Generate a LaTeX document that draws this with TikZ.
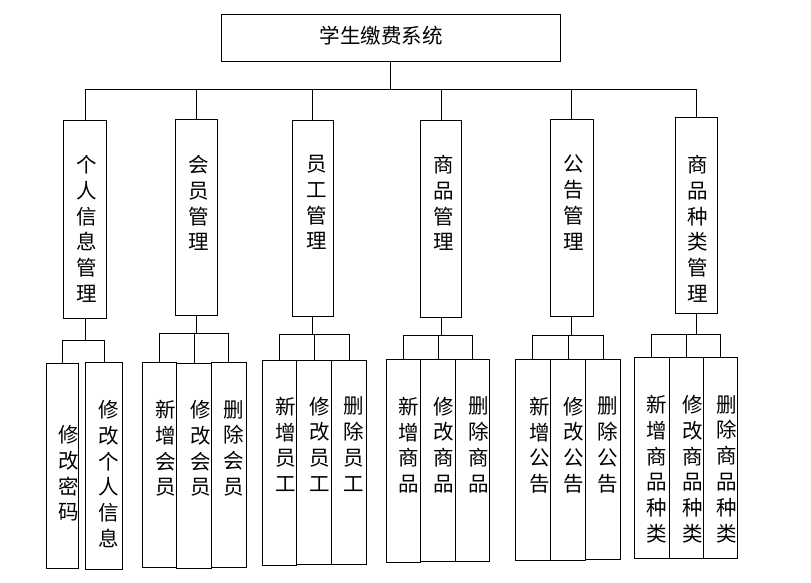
\documentclass[tikz,border=0pt]{standalone}
\usepackage{fontspec}
\newfontfamily\cjk{Noto Sans CJK SC}
\begin{document}
\begin{tikzpicture}[x=1pt,y=-1pt,
  rootbox/.style={draw=black, line width=1pt, minimum width=339pt, minimum height=47pt, inner sep=0pt},
  modbox/.style={draw=black, line width=1pt, inner sep=0pt},
  vlabel/.style={anchor=north, align=center, inner sep=0pt, font=\cjk\fontsize{20.5}{25.8}\selectfont},
  link/.style={draw=black, line width=1pt}]
  \useasboundingbox (0,0) rectangle (811,583);

  % system
  \node[rootbox] (sys) at (390.5,38.5) {};
  \node[vlabel, anchor=center] (systxt) at (381,36) {学生缴费系统};

  % modules
  \node[modbox, minimum width=43.4pt, minimum height=198pt] (m1) at (85,219.3) {};
  \node[vlabel] (m1t) at (86.3,155) {个\\人\\信\\息\\管\\理};

  \node[modbox, minimum width=42pt, minimum height=196pt] (m2) at (196.3,217.3) {};
  \node[vlabel] (m2t) at (198.3,155) {会\\员\\管\\理};

  \node[modbox, minimum width=41pt, minimum height=196pt] (m3) at (312.8,218.3) {};
  \node[vlabel] (m3t) at (316.3,155) {员\\工\\管\\理};

  \node[modbox, minimum width=41.4pt, minimum height=197pt] (m4) at (441,218.8) {};
  \node[vlabel] (m4t) at (443.5,155) {商\\品\\管\\理};

  \node[modbox, minimum width=43pt, minimum height=197pt] (m5) at (571.8,217.8) {};
  \node[vlabel] (m5t) at (573.5,155) {公\\告\\管\\理};

  \node[modbox, minimum width=42pt, minimum height=196pt] (m6) at (696.3,215.3) {};
  \node[vlabel] (m6t) at (698.2,155) {商\\品\\种\\类\\管\\理};

  % personal info
  \node[modbox, minimum width=32pt, minimum height=205pt] (s11) at (62.3,465.8) {};
  \node[vlabel] (s11t) at (69,425) {修\\改\\密\\码};
  \node[modbox, minimum width=37.4pt, minimum height=207pt] (s12) at (104,465.8) {};
  \node[vlabel] (s12t) at (108.8,400) {修\\改\\个\\人\\信\\息};

  % members
  \node[modbox, minimum width=34.4pt, minimum height=205pt] (s21) at (159.5,464.8) {};
  \node[vlabel] (s21t) at (165.5,400) {新\\增\\会\\员};
  \node[modbox, minimum width=34.6pt, minimum height=205pt] (s22) at (194,465.8) {};
  \node[vlabel] (s22t) at (200.8,400) {修\\改\\会\\员};
  \node[modbox, minimum width=35pt, minimum height=205pt] (s23) at (228.8,464.8) {};
  \node[vlabel] (s23t) at (234.2,400) {删\\除\\会\\员};

  % staff
  \node[modbox, minimum width=34pt, minimum height=204.6pt] (s31) at (279.3,463) {};
  \node[vlabel] (s31t) at (285.5,396.7) {新\\增\\员\\工};
  \node[modbox, minimum width=35.4pt, minimum height=203.6pt] (s32) at (314,462.5) {};
  \node[vlabel] (s32t) at (319.5,396.7) {修\\改\\员\\工};
  \node[modbox, minimum width=34.6pt, minimum height=203.6pt] (s33) at (349,462.5) {};
  \node[vlabel] (s33t) at (354.2,396.7) {删\\除\\员\\工};

  % goods
  \node[modbox, minimum width=34.4pt, minimum height=202.6pt] (s41) at (403.5,461) {};
  \node[vlabel] (s41t) at (408.8,396.7) {新\\增\\商\\品};
  \node[modbox, minimum width=35pt, minimum height=201.6pt] (s42) at (438.2,460.5) {};
  \node[vlabel] (s42t) at (444.2,396.7) {修\\改\\商\\品};
  \node[modbox, minimum width=33.6pt, minimum height=201.6pt] (s43) at (472.5,460.5) {};
  \node[vlabel] (s43t) at (478.3,396.7) {删\\除\\商\\品};

  % notices
  \node[modbox, minimum width=35pt, minimum height=201pt] (s51) at (532.8,459.8) {};
  \node[vlabel] (s51t) at (539.7,396.7) {新\\增\\公\\告};
  \node[modbox, minimum width=35.4pt, minimum height=201pt] (s52) at (568,459.8) {};
  \node[vlabel] (s52t) at (573.5,396.7) {修\\改\\公\\告};
  \node[modbox, minimum width=34.6pt, minimum height=200pt] (s53) at (603,459.3) {};
  \node[vlabel] (s53t) at (607.8,396.7) {删\\除\\公\\告};

  % goods categories
  \node[modbox, minimum width=35pt, minimum height=201pt] (s61) at (651.8,457.8) {};
  \node[vlabel] (s61t) at (657.2,395) {新\\增\\商\\品\\种\\类};
  \node[modbox, minimum width=34pt, minimum height=201pt] (s62) at (686.3,457.8) {};
  \node[vlabel] (s62t) at (692.8,395) {修\\改\\商\\品\\种\\类};
  \node[modbox, minimum width=34pt, minimum height=201pt] (s63) at (720.3,457.8) {};
  \node[vlabel] (s63t) at (726.7,395) {删\\除\\商\\品\\种\\类};

  % connectors
  \coordinate (bus) at (0,90);
  \draw[link] (sys.south) -- (sys.south |- bus);
  \draw[link] (m1.north) |- (m6 |- bus) -- (m6.north);
  \foreach \m in {m2,m3,m4,m5}
    \draw[link] (\m.north) -- (\m |- bus);

  \coordinate (b1) at (0,340.7);
  \draw[link] (m1.south) -- (m1 |- b1);
  \draw[link] (s11.north) |- (s12 |- b1) -- (s12.north);

  \coordinate (b2) at (0,333.3);
  \draw[link] (m2.south) -- (m2 |- b2);
  \draw[link] (s21.north) |- (s23 |- b2) -- (s23.north);
  \draw[link] (s22.north) -- (s22 |- b2);

  \coordinate (b3) at (0,334.3);
  \draw[link] (m3.south) -- (m3 |- b3);
  \draw[link] (s31.north) |- (s33 |- b3) -- (s33.north);
  \draw[link] (s32.north) -- (s32 |- b3);

  \coordinate (b4) at (0,335.3);
  \draw[link] (m4.south) -- (m4 |- b4);
  \draw[link] (s41.north) |- (s43 |- b4) -- (s43.north);
  \draw[link] (s42.north) -- (s42 |- b4);

  \coordinate (b5) at (0,335.3);
  \draw[link] (m5.south) -- (m5 |- b5);
  \draw[link] (s51.north) |- (s53 |- b5) -- (s53.north);
  \draw[link] (s52.north) -- (s52 |- b5);

  \coordinate (b6) at (0,334.3);
  \draw[link] (m6.south) -- (m6 |- b6);
  \draw[link] (s61.north) |- (s63 |- b6) -- (s63.north);
  \draw[link] (s62.north) -- (s62 |- b6);
\end{tikzpicture}
\end{document}
